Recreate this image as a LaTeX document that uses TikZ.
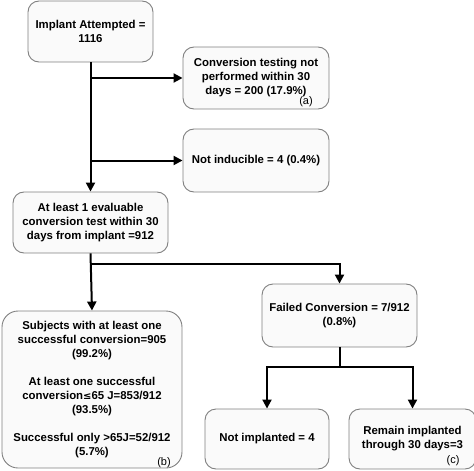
\documentclass[tikz,border=0pt]{standalone}
\usepackage{fontspec}
\setmainfont{Liberation Sans}
\newfontfamily\symfont{DejaVu Sans}
\usetikzlibrary{arrows.meta}
\tikzset{
  box/.style={draw=black!50, line width=0.9pt, fill=black!2, rounded corners=11pt,
    inner sep=0pt, align=center, font=\bfseries\fontsize{11.4}{14}\selectfont},
  arr/.style={line width=2pt, -{Triangle[length=9pt,width=9pt]}},
  ln/.style={line width=2pt},
  tag/.style={font=\fontsize{11}{13}\selectfont, inner sep=0pt}
}
\begin{document}
\begin{tikzpicture}[x=1pt,y=-1pt]
\useasboundingbox (0,0) rectangle (474,471);
\clip (0,0) rectangle (474,471);
\node[box, minimum width=125pt, minimum height=61pt] (n1) at (90.5,31.5) {Implant Attempted =\\1116};
\node[box, minimum width=146pt, minimum height=62pt] (n2) at (256,78) {Conversion testing not\\performed within 30\\days = 200 (17.9\%)};
\node[tag] (ta) at (306,102) {(a)};
\node[box, minimum width=146pt, minimum height=63pt] (n3) at (256,160.5) {Not inducible = 4 (0.4\%)};
\node[box, minimum width=155pt, minimum height=61pt] (n4) at (90.5,222.5) {At least 1 evaluable\\conversion test within 30\\days from implant =912};
\node[box, rounded corners=16pt, minimum width=180pt, minimum height=157pt] (n5) at (92,389.5) {Subjects with at least one\\successful conversion=905\\(99.2\%)\\[14pt]At least one successful\\conversion{\symfont\fontsize{10}{14}\selectfont ≤}65 J=853/912\\(93.5\%)\\[14pt]Successful only >65J=52/912\\(5.7\%)};
\node[tag] (tb) at (164,463) {(b)};
\node[box, minimum width=155pt, minimum height=63pt] (n6) at (339.5,315.5) {Failed Conversion = 7/912\\(0.8\%)};
\node[box, minimum width=124pt, minimum height=60pt] (n7) at (267,439) {Not implanted = 4};
\node[box, minimum width=127pt, minimum height=60pt] (n8) at (412.5,439) {Remain implanted\\through 30 days=3};
\node[tag] (tc) at (453,461) {(c)};
\coordinate (j1) at (90.5,264);
\coordinate (j2) at (339.5,367);
\draw[arr] (n1.south) -- (n4.north);
\draw[arr] (n1.south |- n2.west) -- (n2.west);
\draw[arr] (n1.south |- n3.west) -- (n3.west);
\draw[arr] (n4.south) -- (n5.north);
\draw[arr] (j1) -| (n6.north);
\draw[ln] (n6.south) -- (j2);
\draw[arr] (j2) -| (n7.north);
\draw[arr] (j2) -| (n8.north);
\end{tikzpicture}
\end{document}
